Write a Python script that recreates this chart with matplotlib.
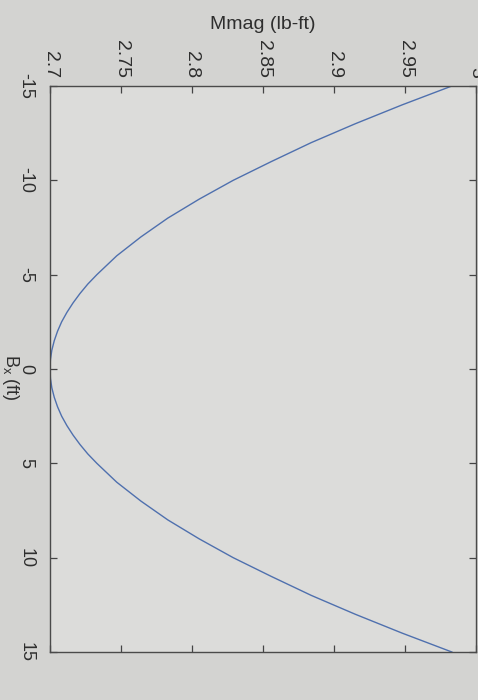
import matplotlib
matplotlib.use("Agg")
import matplotlib.pyplot as plt

# Data
bx_ft = [-15, -14, -13, -12, -11, -10, -9, -8, -7, -6, -5, -4.5, -4, -3.5, -3, -2.5, -2,
         -1.5, -1, -0.5, 0, 0.5, 1, 1.5, 2, 2.5, 3, 3.5, 4, 4.5, 5, 6, 7, 8, 9, 10, 11,
         12, 13, 14, 15]
mmag_lbft = [2.983, 2.948, 2.915, 2.884, 2.856, 2.829, 2.805, 2.783, 2.764, 2.747, 2.733,
             2.7266, 2.7211, 2.7162, 2.7119, 2.7082, 2.7053, 2.7030, 2.7013, 2.7003, 2.700,
             2.7003, 2.7013, 2.7030, 2.7053, 2.7082, 2.7119, 2.7162, 2.7211, 2.7266, 2.733,
             2.747, 2.764, 2.783, 2.805, 2.829, 2.856, 2.884, 2.915, 2.948, 2.983]
mmag_ticks = [2.7, 2.75, 2.8, 2.85, 2.9, 2.95, 3.0]
mmag_ticklabels = ["2.7", "2.75", "2.8", "2.85", "2.9", "2.95", "3"]
bx_ticks = [-15, -10, -5, 0, 5, 10, 15]
bx_ticklabels = ["-15", "-10", "-5", "0", "5", "10", "15"]

plt.rcParams['font.family'] = ['Liberation Sans', 'DejaVu Sans']
W, H = 478, 700
fig = plt.figure(figsize=(W / 100, H / 100), dpi=100)
fig.patch.set_facecolor('#d3d3d1')

left, right, top, bottom = 50, 476, 86, 652
ax = fig.add_axes([left / W, 1 - bottom / H, (right - left) / W, (bottom - top) / H])
ax.set_facecolor('#dcdcda')

ax.plot(mmag_lbft, bx_ft, color='#4f70ae', linewidth=1.0)

ax.set_xlim(2.7, 3.0)
ax.set_ylim(15, -15)
ax.set_xticks(mmag_ticks)
ax.set_xticklabels(mmag_ticklabels)
ax.set_yticks(bx_ticks)
ax.set_yticklabels(bx_ticklabels)

txtc = '#2e2e2e'
ax.tick_params(axis='x', which='both', direction='in', length=5, width=0.9,
               top=True, bottom=True, labeltop=True, labelbottom=False,
               labelsize=14, labelcolor=txtc, color='#444444', pad=6,
               labelrotation=-90)
ax.tick_params(axis='y', which='both', direction='in', length=5, width=0.9,
               left=True, right=True, labelleft=True, labelright=False,
               labelsize=13, labelcolor=txtc, color='#444444', pad=11,
               labelrotation=-90)
for lab in ax.get_xticklabels():
    lab.set_va('bottom')
    lab.set_ha('center')
for lab in ax.get_yticklabels():
    lab.set_va('center')
    lab.set_ha('right')

for s in ax.spines.values():
    s.set_color('#4a4a4a')
    s.set_linewidth(1.0)

ax.xaxis.set_label_position('top')
ax.set_xlabel('Mmag (lb-ft)', fontsize=14, color=txtc, labelpad=8)

fig.text(10 / W, 1 - 377 / H, r'B$_{\mathregular{x}}$ (ft)', rotation=-90, fontsize=13,
         color=txtc, ha='center', va='center')

fig.savefig('out.png', dpi=100, facecolor=fig.get_facecolor())
